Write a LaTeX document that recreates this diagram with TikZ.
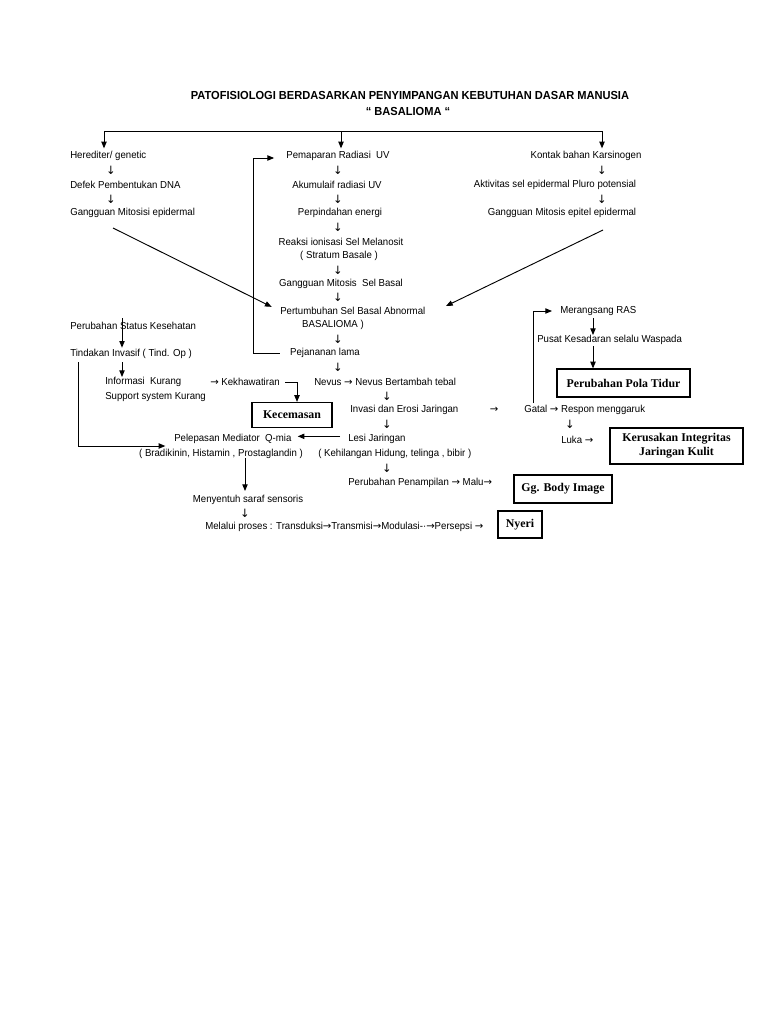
\documentclass[tikz,border=0pt]{standalone}
\usepackage{fontspec}
\setmainfont{Liberation Sans}[FakeStretch=0.95]
\newfontfamily\boxfont{Liberation Serif}
\newfontfamily\arwfont{DejaVu Sans}
\newcommand\myda{{\arwfont\fontsize{8.6}{9}\selectfont ↓}}
\newcommand\myra{{\arwfont →}}
\usetikzlibrary{arrows.meta}
\begin{document}
\begin{tikzpicture}[x=0.75pt,y=-0.75pt,
  t/.style={inner sep=0pt, font=\fontsize{7.6}{9}\selectfont},
  tl/.style={t, anchor=west},
  ttl/.style={inner sep=0pt, font=\bfseries\fontsize{8.75}{10}\selectfont},
  arr/.style={-{Triangle[length=5pt,width=4pt]}, line width=0.7pt},
  ln/.style={line width=0.7pt},
  bx/.style={draw, line width=0.9pt, inner sep=0pt, align=center,
    font=\boxfont\bfseries\fontsize{8.9}{10.5}\selectfont}
]
\fill[white] (0,0) rectangle (768,1024);
\useasboundingbox (0,0) rectangle (768,1024);

% title
\node[ttl] (title1) at (410,95) {PATOFISIOLOGI BERDASARKAN PENYIMPANGAN KEBUTUHAN DASAR MANUSIA};
\node[ttl] (title2) at (408,111) {“ BASALIOMA “};

% left column
\node[tl] (her) at (70,156) {Herediter/ genetic};
\node[t] (a1) at (111,170) {\myda};
\node[tl] (def) at (70,185) {Defek Pembentukan DNA};
\node[t] (a2) at (111,199) {\myda};
\node[tl] (gml) at (70,213) {Gangguan Mitosisi epidermal};

% middle column
\node[t] (pem) at (338,156) {Pemaparan Radiasi\ \ UV};
\node[t] (m1) at (338,170) {\myda};
\node[t] (aku) at (337,185) {Akumulaif radiasi UV};
\node[t] (m2) at (338,199) {\myda};
\node[t] (per) at (340,213) {Perpindahan energi};
\node[t] (m3) at (338,227) {\myda};
\node[t] (rea) at (341,242) {Reaksi ionisasi Sel Melanosit};
\node[t] (str) at (339,256) {( Stratum Basale )};
\node[t] (m4) at (338,270) {\myda};
\node[t] (gms) at (341,284) {Gangguan Mitosis\ \ Sel Basal};
\node[t] (m5) at (338,297) {\myda};
\node[tl] (pert) at (280,311) {Pertumbuhan Sel Basal Abnormal};
\node[t] (bas) at (333,325) {BASALIOMA )};
\node[t] (m6) at (338,339) {\myda};
\node[t] (pej) at (325,353) {Pejananan lama};
\node[t] (m7) at (338,367) {\myda};
\node[tl] (nev) at (314,382) {Nevus \myra{} Nevus Bertambah tebal};
\node[t] (m8) at (387,396) {\myda};
\node[tl] (inv) at (350,410) {Invasi dan Erosi Jaringan};
\node[t] (invr) at (494,410) {\myra};
\node[t] (m9) at (387,424) {\myda};
\node[tl] (les) at (348,439) {Lesi Jaringan};
\node[tl] (keh) at (318,454) {( Kehilangan Hidung, telinga , bibir )};
\node[t] (m10) at (387,468) {\myda};
\node[tl] (pen) at (348,483) {Perubahan Penampilan \myra{} Malu\myra};

% right column
\node[t] (kon) at (586,156) {Kontak bahan Karsinogen};
\node[t] (r1) at (602,170) {\myda};
\node[t] (akt) at (555,185) {Aktivitas sel epidermal Pluro potensial};
\node[t] (r2) at (602,199) {\myda};
\node[t] (gme) at (562,213) {Gangguan Mitosis epitel epidermal};

% top distribution
\coordinate (tL) at (104,131);
\coordinate (tM) at (341,131);
\coordinate (tR) at (602,131);
\draw[ln] (tL) -- (tR);
\draw[arr, shorten >=2pt] (tL) -- (tL |- her.north);
\draw[arr, shorten >=2pt] (tM) -- (tM |- pem.north);
\draw[arr, shorten >=2pt] (tR) -- (tR |- kon.north);

% diagonals
\coordinate (d1s) at (113,228);
\coordinate (d2s) at (603,230);
\coordinate (d2e) at (446,306);
\draw[arr, shorten >=7pt] (d1s) -- (pert.west);
\draw[arr] (d2s) -- (d2e);

% loop from Pejananan lama back to Pemaparan
\coordinate (lp1) at (253,353);
\coordinate (lp2) at (253,158);
\draw[arr, shorten <=7.5pt, shorten >=9pt] (pej.west) -- (lp1) -- (lp2) -- (lp2 -| pem.west);

% left block
\node[tl] (psk) at (70,326) {Perubahan Status Kesehatan};
\node[tl] (tin) at (70,354) {Tindakan Invasif ( Tind. Op )};
\node[tl] (inf) at (105,382) {Informasi\ \ Kurang};
\node[tl] (sup) at (105,397) {Support system Kurang};
\node[tl] (kek) at (210,382) {\myra{} Kekhawatiran};
\node[bx, minimum width=60pt, minimum height=18.75pt] (kec) at (292,415) {Kecemasan};

\coordinate (c1) at (122,318);
\coordinate (c2) at (122,362);
\draw[arr, shorten >=1pt] (c1) -- (c1 |- tin.north);
\draw[arr] (c2) -- (c2 |- inf.north);

\coordinate (k1) at (297,382);
\draw[arr, shorten <=3.75pt] (kek.east) -- (k1) -- (k1 |- kec.north);

\node[tl] (pel) at (174,439) {Pelepasan Mediator\ \ Q-mia};
\node[t] (bra) at (221,454) {( Bradikinin, Histamin , Prostaglandin )};

\coordinate (lv1) at (78,362);
\coordinate (lv2) at (78,446);
\draw[arr, shorten >=6.5pt] (lv1) -- (lv2) -- (lv2 -| pel.west);

\draw[arr, shorten <=6pt, shorten >=4.5pt] ([yshift=2pt]les.west) -- ([yshift=2pt]pel.east);

\node[t] (men) at (248,500) {Menyentuh saraf sensoris};
\node[t] (mm) at (245,513) {\myda};
\node[tl] (mel) at (205,527) {Melalui proses : Transduksi\myra{}Transmisi\myra{}Modulasi-·\myra{}Persepsi \myra};

\coordinate (c3) at (245,458);
\draw[arr, shorten >=3pt] (c3) -- (c3 |- men.north);

% boxes on the right
\node[bx, minimum width=33pt, minimum height=20.25pt] (nye) at (520,524.5) {Nyeri};
\node[bx, minimum width=73.5pt, minimum height=21pt] (gg) at (563,489) {Gg. Body Image};
\node[bx, minimum width=99.75pt, minimum height=27pt] (ker) at (676.5,446) {Kerusakan Integritas\\Jaringan Kulit};
\node[bx, minimum width=99.75pt, minimum height=21pt] (ppt) at (623.5,383) {Perubahan Pola Tidur};

% right lower
\node[tl] (mer) at (560,311) {Merangsang RAS};
\node[tl] (pus) at (537,340) {Pusat Kesadaran selalu Waspada};
\node[tl] (gat) at (524,410) {Gatal \myra{} Respon menggaruk};
\node[t] (ga) at (570,424) {\myda};
\node[tl] (luk) at (561,440) {Luka \myra};

\coordinate (c4) at (593,318);
\coordinate (c5) at (593,346);
\draw[arr] (c4) -- (c4 |- pus.north);
\draw[arr] (c5) -- (c5 |- ppt.north);

\coordinate (g1) at (533,403);
\coordinate (g2) at (533,311);
\draw[arr, shorten >=6pt] (g1) -- (g2) -- (g2 -| mer.west);
\end{tikzpicture}
\end{document}
